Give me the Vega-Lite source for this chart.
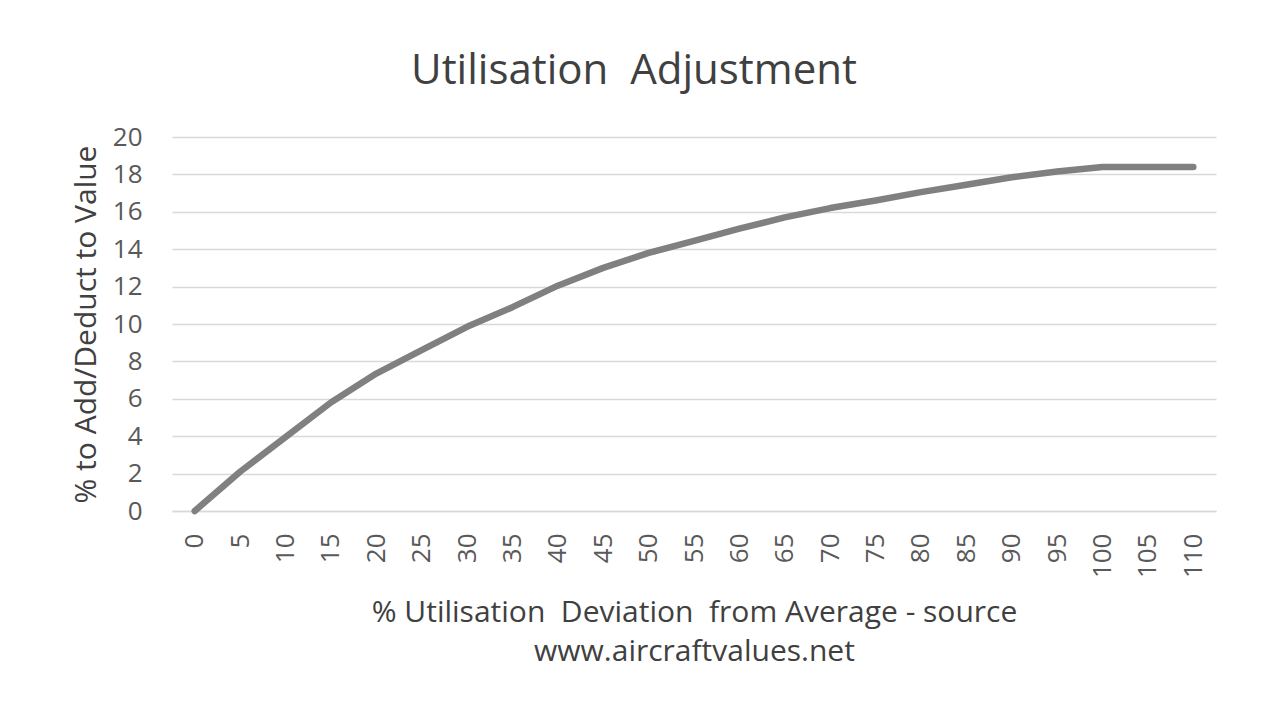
{
  "$schema": "https://vega.github.io/schema/vega-lite/v6.json",
  "autosize": "none",
  "width": 1044,
  "height": 374,
  "padding": {"left": 172, "top": 137, "right": 52, "bottom": 211},
  "background": "#ffffff",
  "title": {
    "text": "Utilisation\u00a0 Adjustment",
    "anchor": "middle",
    "frame": "group",
    "dx": -60,
    "offset": 31,
    "font": "Open Sans",
    "fontSize": 42,
    "fontWeight": "normal",
    "color": "#404040"
  },
  "data": {
    "values": [
      {"deviation": 0, "pct": 0},
      {"deviation": 5, "pct": 2.1},
      {"deviation": 10, "pct": 3.95},
      {"deviation": 15, "pct": 5.8},
      {"deviation": 20, "pct": 7.35},
      {"deviation": 25, "pct": 8.6},
      {"deviation": 30, "pct": 9.85},
      {"deviation": 35, "pct": 10.9},
      {"deviation": 40, "pct": 12.05},
      {"deviation": 45, "pct": 13.0},
      {"deviation": 50, "pct": 13.8},
      {"deviation": 55, "pct": 14.45},
      {"deviation": 60, "pct": 15.1},
      {"deviation": 65, "pct": 15.7},
      {"deviation": 70, "pct": 16.2},
      {"deviation": 75, "pct": 16.6},
      {"deviation": 80, "pct": 17.05},
      {"deviation": 85, "pct": 17.45},
      {"deviation": 90, "pct": 17.85},
      {"deviation": 95, "pct": 18.15},
      {"deviation": 100, "pct": 18.4},
      {"deviation": 105, "pct": 18.4},
      {"deviation": 110, "pct": 18.4}
    ]
  },
  "mark": {"type": "line", "color": "#808080", "strokeWidth": 6.5, "strokeCap": "round", "strokeJoin": "round"},
  "encoding": {
    "x": {
      "field": "deviation",
      "type": "ordinal",
      "sort": null,
      "scale": {"type": "point", "padding": 0.5},
      "axis": {
        "title": ["% Utilisation\u00a0 Deviation\u00a0 from Average - source", "www.aircraftvalues.net"],
        "labelAngle": -90,
        "labelAlign": "right",
        "labelBaseline": "middle",
        "labelPadding": 22,
        "labelFont": "Open Sans",
        "labelFontSize": 26,
        "labelColor": "#595959",
        "ticks": false,
        "domain": true,
        "domainColor": "#d9d9d9",
        "domainWidth": 1.5,
        "grid": false,
        "titleFont": "Open Sans",
        "titleFontSize": 30,
        "titleFontWeight": "normal",
        "titleColor": "#404040",
        "titlePadding": 20,
        "titleLineHeight": 39
      }
    },
    "y": {
      "field": "pct",
      "type": "quantitative",
      "scale": {"domain": [0, 20], "nice": false},
      "axis": {
        "title": "% to Add/Deduct to Value",
        "values": [0, 2, 4, 6, 8, 10, 12, 14, 16, 18, 20],
        "labelFont": "Open Sans",
        "labelFontSize": 26,
        "labelColor": "#595959",
        "labelPadding": 30,
        "ticks": false,
        "domain": false,
        "grid": true,
        "gridColor": "#d9d9d9",
        "gridWidth": 1.5,
        "titleFont": "Open Sans",
        "titleFontSize": 30,
        "titleFontWeight": "normal",
        "titleColor": "#404040",
        "titlePadding": 11
      }
    }
  },
  "config": {"view": {"stroke": null}}
}
